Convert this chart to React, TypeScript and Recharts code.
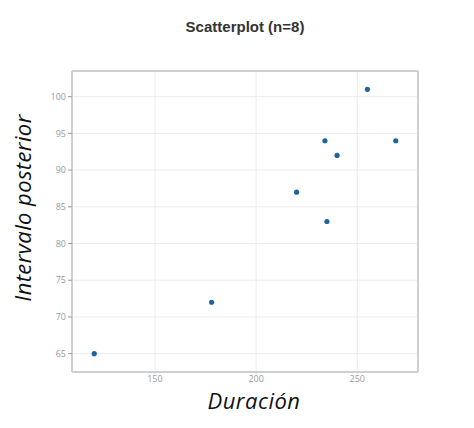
import { ScatterChart, Scatter, XAxis, YAxis, CartesianGrid } from "recharts";

const duracion = [120, 178, 220, 234, 235, 240, 255, 269];
const intervalo = [65, 72, 87, 94, 83, 92, 101, 94];
const xTicks = [150, 200, 250];
const yTicks = [65, 70, 75, 80, 85, 90, 95, 100];

const points = duracion.map((d, i) => ({ x: d, y: intervalo[i] }));

const frame = "#cfcfcf";
const tickStyle = { fontSize: 9, fill: "#999", fontFamily: "Open Sans" };
const labelFont = "'Open Sans', sans-serif";

export default function App() {
  return (
    <div style={{ position: "absolute", left: 0, top: 0, width: 474, height: 428, background: "#fff" }}>
      <div
        style={{
          position: "absolute",
          left: 0,
          width: 490,
          top: 18,
          textAlign: "center",
          fontFamily: "'Liberation Sans', Arial, sans-serif",
          fontWeight: "bold",
          fontSize: 15,
          color: "#333",
        }}
      >
        Scatterplot (n=8)
      </div>
      <ScatterChart width={474} height={428} margin={{ top: 71, right: 56, bottom: 36, left: 42 }}>
        <CartesianGrid stroke="#ececec" xAxisId="bottom" yAxisId="left" />
        <XAxis
          xAxisId="bottom"
          type="number"
          dataKey="x"
          domain={[109, 280]}
          ticks={xTicks}
          height={20}
          tick={tickStyle}
          tickLine={{ stroke: frame }}
          tickSize={2}
          axisLine={{ stroke: frame, strokeWidth: 2 }}
        />
        <XAxis
          xAxisId="top"
          orientation="top"
          type="number"
          dataKey="x"
          domain={[109, 280]}
          ticks={xTicks}
          height={20}
          mirror
          tickFormatter={() => ""}
          tickLine={{ stroke: "#999" }}
          tickSize={4}
          axisLine={{ stroke: frame, strokeWidth: 2 }}
        />
        <YAxis
          yAxisId="left"
          type="number"
          dataKey="y"
          domain={[62.5, 103.5]}
          ticks={yTicks}
          width={30}
          tick={tickStyle}
          tickLine={{ stroke: "#999" }}
          tickSize={4}
          axisLine={{ stroke: frame, strokeWidth: 2 }}
        />
        <YAxis
          yAxisId="right"
          orientation="right"
          type="number"
          dataKey="y"
          domain={[62.5, 103.5]}
          ticks={yTicks}
          width={30}
          mirror
          tickFormatter={() => ""}
          tickLine={{ stroke: "#999" }}
          tickSize={4}
          axisLine={{ stroke: frame, strokeWidth: 2 }}
        />
        <Scatter
          data={points}
          xAxisId="bottom"
          yAxisId="left"
          fill="#1f64a0"
          shape={(p: any) => <circle cx={p.cx} cy={p.cy} r={2.6} fill="#1f64a0" />}
          isAnimationActive={false}
        />
      </ScatterChart>
      <div
        style={{
          position: "absolute",
          left: 254,
          top: 400,
          transform: "translate(-50%, -50%)",
          fontFamily: labelFont,
          fontStyle: "italic",
          fontSize: 22,
          lineHeight: 1,
          letterSpacing: 0.5,
          color: "#111",
          whiteSpace: "nowrap",
        }}
      >
        Duración
      </div>
      <div
        style={{
          position: "absolute",
          left: 22,
          top: 208,
          transform: "translate(-50%, -50%) rotate(-90deg)",
          fontFamily: labelFont,
          fontStyle: "italic",
          fontSize: 22,
          lineHeight: 1,
          letterSpacing: 0.4,
          color: "#111",
          whiteSpace: "nowrap",
        }}
      >
        Intervalo posterior
      </div>
    </div>
  );
}
